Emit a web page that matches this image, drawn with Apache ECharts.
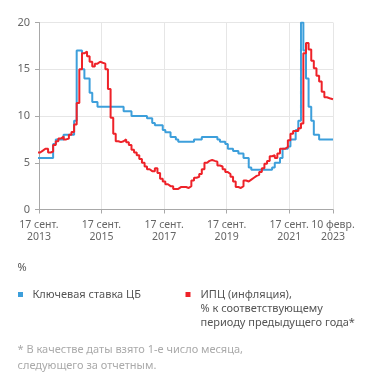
<!DOCTYPE html>
<html>
<head>
<meta charset="utf-8">
<script src="https://cdn.jsdelivr.net/npm/echarts@6/dist/echarts.min.js"></script>
<style>
html,body{margin:0;padding:0;background:#fff;}
#chart{width:371px;height:386px;}
</style>
</head>
<body>
<div id="chart"></div>
<script>
// First month covered by the monthly series (value of month m drawn from the 1st of month m)
const firstYear = 2013, firstMonth = 9;
const axisStart = [2013, 9, 17];
const axisEnd = [2023, 2, 10];

// Key rate, % (monthly, Sep 2013 .. Jan 2023)
const keyRate = [
  5.5, 5.5, 5.5, 5.5,
  5.5, 5.5, 7.0, 7.5, 7.5, 7.5, 8.0, 8.0, 8.0, 8.0, 9.5, 17.0,
  17.0, 15.0, 14.0, 14.0, 12.5, 11.5, 11.5, 11.0, 11.0, 11.0, 11.0, 11.0,
  11.0, 11.0, 11.0, 11.0, 11.0, 10.5, 10.5, 10.5, 10.0, 10.0, 10.0, 10.0,
  10.0, 10.0, 9.75, 9.75, 9.25, 9.0, 9.0, 9.0, 8.5, 8.25, 8.25, 7.75,
  7.75, 7.5, 7.25, 7.25, 7.25, 7.25, 7.25, 7.25, 7.5, 7.5, 7.5, 7.75,
  7.75, 7.75, 7.75, 7.75, 7.75, 7.5, 7.25, 7.25, 7.0, 6.5, 6.5, 6.25,
  6.25, 6.0, 6.0, 5.5, 5.5, 4.5, 4.25, 4.25, 4.25, 4.25, 4.25, 4.25,
  4.25, 4.25, 4.5, 5.0, 5.0, 5.5, 6.5, 6.5, 6.75, 7.5, 7.5, 8.5,
  9.5, 20.0, 17.0, 14.0, 11.0, 9.5, 8.0, 8.0, 7.5, 7.5, 7.5, 7.5,
  7.5
];

// CPI, % y/y (monthly, Sep 2013 .. Jan 2023)
const cpi = [
  6.1, 6.3, 6.5, 6.5,
  6.1, 6.2, 6.9, 7.3, 7.6, 7.8, 7.5, 7.6, 8.0, 8.3, 9.1, 11.4,
  15.0, 16.7, 16.9, 16.4, 15.8, 15.3, 15.6, 15.8, 15.7, 15.6, 15.0, 12.9,
  9.8, 8.1, 7.3, 7.2, 7.3, 7.5, 7.2, 6.9, 6.4, 6.1, 5.8, 5.4,
  5.0, 4.6, 4.3, 4.1, 4.1, 4.4, 3.9, 3.3, 3.0, 2.7, 2.5, 2.5,
  2.2, 2.2, 2.4, 2.4, 2.4, 2.3, 2.5, 3.1, 3.4, 3.5, 3.8, 4.3,
  5.0, 5.2, 5.3, 5.2, 5.1, 4.7, 4.6, 4.3, 4.0, 3.8, 3.5, 3.0,
  2.4, 2.3, 2.5, 3.1, 3.0, 3.2, 3.4, 3.6, 3.7, 4.0, 4.4, 4.9,
  5.2, 5.7, 5.8, 5.5, 6.0, 6.5, 6.5, 6.7, 7.4, 8.1, 8.4, 8.4,
  8.7, 9.2, 16.7, 17.8, 17.1, 15.9, 15.1, 14.3, 13.7, 12.6, 12.0, 11.9,
  11.8
];

// x-axis tick dates and their labels
const tickDates = [[2013, 9, 17], [2015, 9, 17], [2017, 9, 17], [2019, 9, 17], [2021, 9, 17], [2023, 2, 10]];
const tickLabels = ['17 сент.\n2013', '17 сент.\n2015', '17 сент.\n2017', '17 сент.\n2019', '17 сент.\n2021', '10 февр.\n2023'];

const yTicks = [0, 5, 10, 15, 20];

const seriesNames = ['Ключевая ставка ЦБ', 'ИПЦ (инфляция),\n% к соответствующему\nпериоду предыдущего года*'];
const unitLabel = '%';
const footnote = '* В качестве даты взято 1-е число месяца,\nследующего за отчетным.';

const DAY = 86400000;
const t0 = Date.UTC(axisStart[0], axisStart[1] - 1, axisStart[2]);
const dayOf = (y, m, d) => (Date.UTC(y, m - 1, d) - t0) / DAY;
const endDay = dayOf(axisEnd[0], axisEnd[1], axisEnd[2]);
const tickDays = tickDates.map(d => dayOf(d[0], d[1], d[2]));

function toPairs(values) {
  const out = values.map((v, i) => {
    const total = (firstMonth - 1) + i;
    const y = firstYear + Math.floor(total / 12);
    const m = (total % 12) + 1;
    return [dayOf(y, m, 1), v];
  });
  out.push([endDay, values[values.length - 1]]);
  return out;
}

const FONT = '"Noto Sans", "DejaVu Sans", sans-serif';
const BLUE = '#3d9fdb';
const RED = '#ee2229';

const chart = echarts.init(document.getElementById('chart'), null, {renderer: 'canvas'});
chart.setOption({
  animation: false,
  backgroundColor: '#fff',
  grid: {left: 39, right: 38, top: 22.5, bottom: 176.5, containLabel: false},
  xAxis: {
    type: 'value',
    min: 0,
    max: endDay,
    axisLine: {show: true, lineStyle: {color: '#a8a8a8', width: 1}},
    axisTick: {show: true, length: 4, lineStyle: {color: '#a8a8a8'}, customValues: tickDays},
    splitLine: {show: true, lineStyle: {color: '#e6e6e6', width: 1}},
    axisLabel: {
      customValues: tickDays,
      showMinLabel: true,
      showMaxLabel: true,
      margin: 9,
      color: '#666',
      fontFamily: FONT,
      fontSize: 10.5,
      lineHeight: 12.5,
      formatter: function (val) {
        let best = -1, bd = 1e9;
        tickDays.forEach((d, i) => { const dd = Math.abs(d - val); if (dd < bd) { bd = dd; best = i; } });
        return bd < 3 ? tickLabels[best] : '';
      }
    }
  },
  yAxis: {
    type: 'value',
    min: yTicks[0],
    max: yTicks[yTicks.length - 1],
    interval: yTicks[1] - yTicks[0],
    axisLine: {show: true, lineStyle: {color: '#a8a8a8', width: 1}},
    axisTick: {show: true, length: 4, lineStyle: {color: '#a8a8a8'}},
    splitLine: {show: true, lineStyle: {color: '#e6e6e6', width: 1}},
    axisLabel: {color: '#666', fontFamily: FONT, fontSize: 11, margin: 9}
  },
  series: [
    {
      name: seriesNames[0], type: 'line', step: 'end', showSymbol: false, symbol: 'none',
      data: toPairs(keyRate), lineStyle: {color: BLUE, width: 2}, itemStyle: {color: BLUE}, z: 2
    },
    {
      name: seriesNames[1], type: 'line', step: 'end', showSymbol: false, symbol: 'none',
      data: toPairs(cpi), lineStyle: {color: RED, width: 2}, itemStyle: {color: RED}, z: 3
    }
  ],
  graphic: [
    {type: 'text', left: 17.5, top: 262, style: {text: unitLabel, fill: '#555', font: '11px ' + FONT}},
    {type: 'rect', shape: {x: 18, y: 292, width: 5, height: 5}, style: {fill: BLUE}},
    {type: 'text', left: 32.5, top: 287.5, style: {text: seriesNames[0], fill: '#555', font: '11px ' + FONT, lineHeight: 14}},
    {type: 'rect', shape: {x: 185.5, y: 292, width: 5, height: 5}, style: {fill: RED}},
    {type: 'text', left: 200.5, top: 287.5, style: {text: seriesNames[1], fill: '#555', font: '11px ' + FONT, lineHeight: 14}},
    {type: 'text', left: 17.5, top: 342, style: {text: footnote, fill: '#aaa', font: '11px ' + FONT, lineHeight: 16}}
  ]
});
</script>
</body>
</html>
